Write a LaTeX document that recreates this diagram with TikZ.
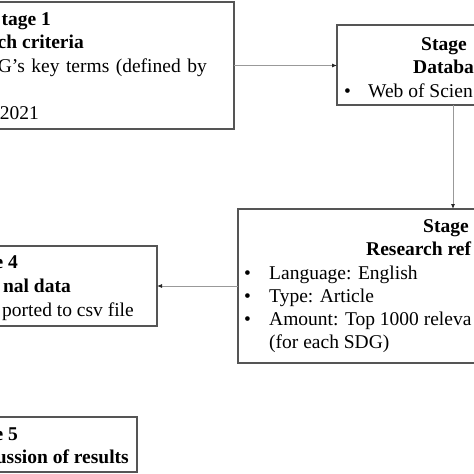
\documentclass[tikz,border=0pt]{standalone}
\usepackage{fontspec}
\setmainfont{Liberation Serif}
\usetikzlibrary{arrows.meta}
\definecolor{boxgray}{HTML}{555555}
\definecolor{conngray}{HTML}{999999}
\begin{document}
\begin{tikzpicture}[x=1pt,y=-1pt,
  stagebox/.style={draw=boxgray,line width=1.3pt,inner sep=0pt,outer sep=0pt,anchor=north west},
  conn/.style={draw=conngray,line width=0.8pt,-{Latex[length=5pt,width=4pt,color=black!85]}},
  txt/.style={inner sep=0pt,font=\fontsize{19.5}{23.5}\selectfont},
  hd/.style={inner sep=0pt,font=\fontsize{19.5}{23.5}\selectfont\bfseries},
  L/.style={anchor=base west},
  R/.style={anchor=base east}]
\useasboundingbox (0,0) rectangle (474,474);
\clip (0,0) rectangle (474,474);

% boxes
\node[stagebox,minimum width=274pt,minimum height=127pt] (s1) at (-40,2) {};
\node[stagebox,minimum width=232pt,minimum height=80pt] (s2) at (337,25) {};
\node[stagebox,minimum width=430pt,minimum height=154pt] (s3) at (238,209) {};
\node[stagebox,minimum width=197pt,minimum height=80pt] (s4) at (-40,246) {};
\node[stagebox,minimum width=177pt,minimum height=55pt] (s5) at (-40,417) {};

% connectors
\draw[conn] (s1.east) -- (s1.east -| s2.west);
\draw[conn] (s2.south) -- (s3.north);
\draw[conn] (s3.west) -- (s4.east);

% stage 1 text
\node[hd,R] (t1a) at (51,25) {tage 1};
\node[hd,R] (t1b) at (84,48.5) {ch criteria};
\node[txt,R] (t1c) at (207,72) {\makebox[209pt][s]{G’s key terms (defined by}};
\node[txt,R] (t1d) at (39,119) {2021};

% stage 2 text
\node[hd,L] (t2a) at (421,50) {Stage};
\node[hd,L] (t2b) at (413,73.5) {Databa};
\node[txt,L] (t2c) at (344,97) {•};
\node[txt,L] (t2d) at (368,97) {Web of Scien};

% stage 3 text
\node[hd,L] (t3a) at (423,232) {Stage};
\node[hd,L] (t3b) at (366,255) {Research ref};
\node[txt,L] (t3c) at (244,279) {•};
\node[txt,L] (t3d) at (269,279) {Language: English};
\node[txt,L] (t3e) at (244,302) {•};
\node[txt,L] (t3f) at (269,302) {Type: Article};
\node[txt,L] (t3g) at (244,325) {•};
\node[txt,L] (t3h) at (269,325) {Amount: Top 1000 releva};
\node[txt,L] (t3i) at (269,348) {(for each SDG)};

% stage 4 text
\node[hd,R] (t4a) at (18,268) {e 4};
\node[hd,R] (t4b) at (71,292) {nal data};
\node[txt,R] (t4c) at (134,316) {ported to csv file};

% stage 5 text
\node[hd,R] (t5a) at (18,440) {e 5};
\node[hd,R] (t5b) at (129,463) {ussion of results};
\end{tikzpicture}
\end{document}
